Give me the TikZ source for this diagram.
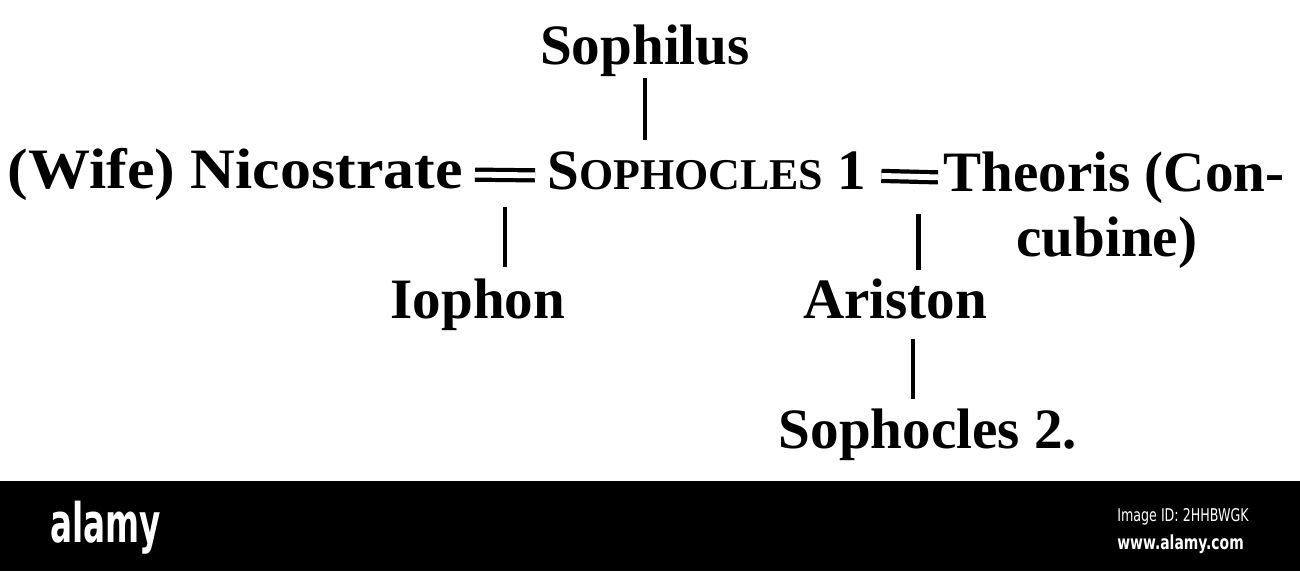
\documentclass[tikz,border=0pt]{standalone}
\usepackage{fontspec}
\setmainfont{Liberation Serif}
\newfontfamily\logofont[FakeStretch=0.6]{DejaVu Sans}
\newfontfamily\idfont[FakeStretch=0.72]{DejaVu Sans}
\usetikzlibrary{calc}

\newcommand{\smc}[1]{{\fontsize{25}{28}\selectfont #1}}

\begin{document}
\begin{tikzpicture}[
    x=0.02cm, y=-0.02cm,
    person/.style={inner sep=0pt, font=\fontsize{32.5}{36}\selectfont\bfseries},
    marriage/.style={draw, line width=2.4pt, double distance=3.3pt},
    descent/.style={draw, line width=2.8pt},
    band/.style={fill=black},
    stamp/.style={text=white, inner sep=0pt}
]
\useasboundingbox (0,0) rectangle (1300,571);

% Persons
\node [person, anchor=base] (sophilus) at (645,65) {Sophilus};
\node [person, anchor=base east] (nicostrate) at (463,188) {\scalebox{1.085}[1]{(Wife) Nicostrate}};
\node [person, anchor=base west] (sophocles) at (547,189) {S\smc{OPHOCLES} 1};
\node [person, anchor=base west] (theoris) at (943,191) {Theoris (Con-};
\node [person, anchor=base west] (cubine) at (1016,256) {cubine)};
\node [person, anchor=base] (iophon) at (478,318) {Iophon};
\node [person, anchor=base] (ariston) at (895,318) {Ariston};
\node [person, anchor=base] (sophocles2) at (928,448) {Sophocles 2.};

% Marriages
\coordinate (w1) at ([yshift=0.27cm]nicostrate.base east);
\coordinate (h1) at ([yshift=0.27cm]sophocles.base west);
\coordinate (h2) at ([yshift=0.27cm]sophocles.base east);
\coordinate (w2) at ([yshift=0.27cm]theoris.base west);
\path [marriage, shorten <=0.24cm, shorten >=0.24cm] (w1) -- (h1);
\path [marriage, shorten <=0.3cm, shorten >=0.1cm] (h2) -- (w2);
\coordinate (m1) at ($(w1)!0.5!(h1)$);
\coordinate (m2) at ($(h2)!0.68!(w2)$);

% Descent
\path [descent, shorten >=0.22cm] (sophilus.south) -- (sophilus.south |- sophocles.north);
\path [descent, shorten <=0.64cm, shorten >=0.22cm] (m1) -- (m1 |- iophon.north);
\path [descent, shorten <=0.74cm, shorten >=0.16cm] (m2) -- (m2 |- ariston.north);
\path [descent, shorten <=0.4cm, shorten >=0.18cm] ([xshift=0.36cm]ariston.south) -- ([xshift=0.36cm]ariston.south |- sophocles2.north);

% Stock band
\path [band] (0,481) rectangle (1300,571);
\node [stamp, anchor=base west, font=\logofont\bfseries\fontsize{31}{33}\selectfont] (logo) at (50,542) {alamy};
\node [stamp, anchor=base west, font=\idfont\fontsize{10}{12}\selectfont] (imageid) at (1117,521) {Image ID: 2HHBWGK};
\node [stamp, anchor=base west, font=\idfont\bfseries\fontsize{11}{13}\selectfont] (site) at (1117,549) {www.alamy.com};

\end{tikzpicture}
\end{document}
